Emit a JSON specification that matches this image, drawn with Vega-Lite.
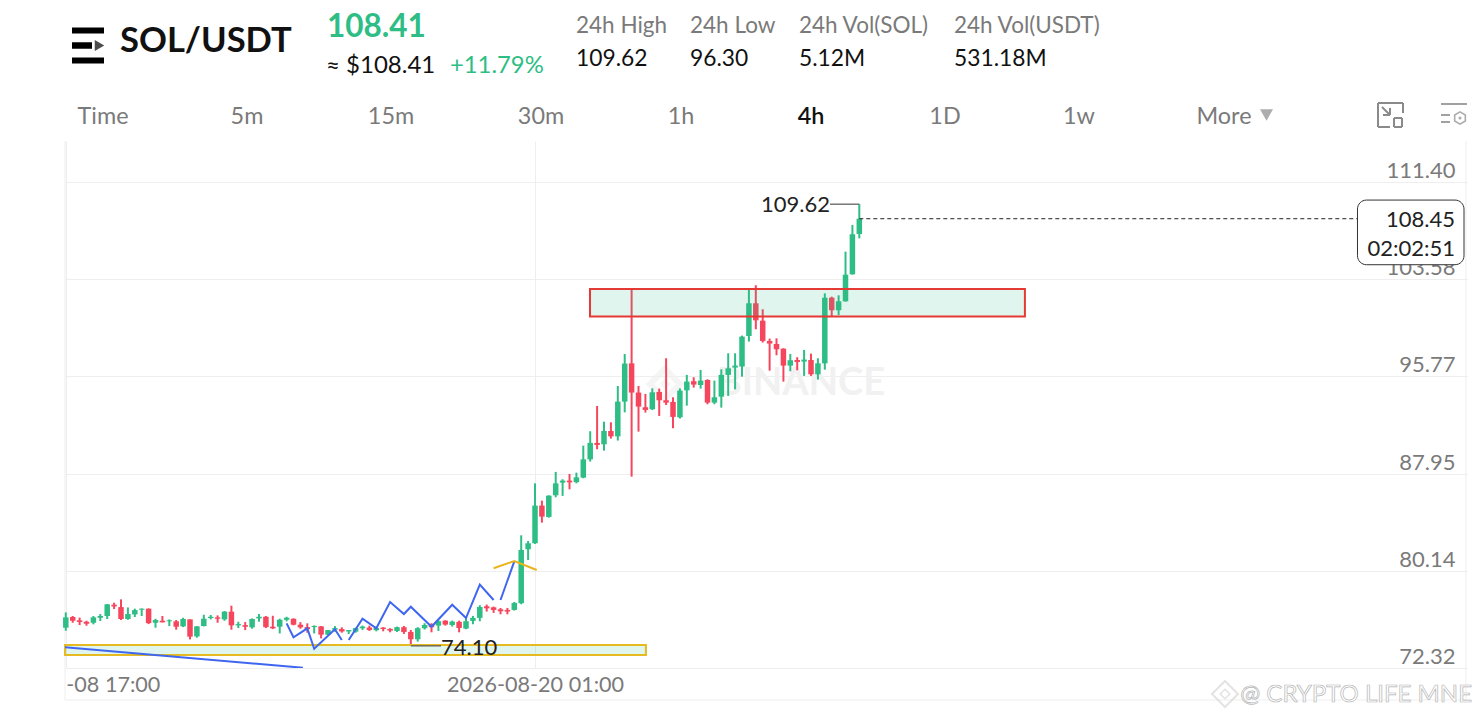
{
"$schema":"https://vega.github.io/schema/vega-lite/v6.json",
"autosize":{"type":"none"},
"padding":{"left":65,"top":141,"right":12,"bottom":52},
"width":1402,"height":527,
"background":"#ffffff",
"config":{"font":"Lato","view":{"stroke":null},
"style":{
"tab":{"fontSize":23.4,"color":"#7a7a7a","align":"center","baseline":"middle"},
"stat":{"fontSize":22.5,"color":"#7a7a7a","align":"left","baseline":"middle"},
"val":{"fontSize":22.8,"color":"#111111","align":"left","baseline":"middle"},
"ann":{"fontSize":22,"color":"#222222","baseline":"middle"}
}},
"datasets":{
"candles":[
{"t":"2026-08-08T17:00","o":75.56,"h":76.79,"l":75.32,"c":76.39},
{"t":"2026-08-08T21:00","o":76.42,"h":76.50,"l":75.96,"c":76.12},
{"t":"2026-08-09T01:00","o":76.15,"h":76.37,"l":75.77,"c":76.02},
{"t":"2026-08-09T05:00","o":76.04,"h":76.12,"l":75.72,"c":75.88},
{"t":"2026-08-09T09:00","o":75.96,"h":76.50,"l":75.83,"c":76.39},
{"t":"2026-08-09T13:00","o":76.36,"h":76.66,"l":76.10,"c":76.50},
{"t":"2026-08-09T17:00","o":76.50,"h":77.46,"l":76.26,"c":77.44},
{"t":"2026-08-09T21:00","o":77.41,"h":77.57,"l":77.06,"c":77.27},
{"t":"2026-08-10T01:00","o":77.22,"h":77.84,"l":76.18,"c":76.26},
{"t":"2026-08-10T05:00","o":76.26,"h":77.19,"l":76.20,"c":76.66},
{"t":"2026-08-10T09:00","o":76.63,"h":77.09,"l":76.42,"c":76.98},
{"t":"2026-08-10T13:00","o":77.01,"h":77.11,"l":76.50,"c":77.09},
{"t":"2026-08-10T17:00","o":77.09,"h":77.11,"l":75.85,"c":75.93},
{"t":"2026-08-10T21:00","o":75.96,"h":76.28,"l":75.56,"c":76.18},
{"t":"2026-08-11T01:00","o":76.12,"h":76.50,"l":75.99,"c":75.99},
{"t":"2026-08-11T05:00","o":76.07,"h":76.23,"l":75.69,"c":76.15},
{"t":"2026-08-11T09:00","o":76.07,"h":76.18,"l":75.40,"c":75.64},
{"t":"2026-08-11T13:00","o":75.67,"h":76.36,"l":75.61,"c":76.26},
{"t":"2026-08-11T17:00","o":76.23,"h":76.23,"l":74.62,"c":74.84},
{"t":"2026-08-11T21:00","o":74.86,"h":75.69,"l":74.76,"c":75.67},
{"t":"2026-08-12T01:00","o":75.69,"h":76.60,"l":75.67,"c":76.28},
{"t":"2026-08-12T05:00","o":76.34,"h":76.58,"l":76.23,"c":76.44},
{"t":"2026-08-12T09:00","o":76.39,"h":76.55,"l":75.96,"c":76.28},
{"t":"2026-08-12T13:00","o":76.23,"h":76.90,"l":76.12,"c":76.85},
{"t":"2026-08-12T17:00","o":76.85,"h":77.33,"l":75.40,"c":75.75},
{"t":"2026-08-12T21:00","o":75.75,"h":76.04,"l":75.53,"c":75.85},
{"t":"2026-08-13T01:00","o":75.77,"h":76.01,"l":75.37,"c":75.64},
{"t":"2026-08-13T05:00","o":75.59,"h":76.31,"l":75.48,"c":76.26},
{"t":"2026-08-13T09:00","o":76.31,"h":76.66,"l":76.04,"c":76.44},
{"t":"2026-08-13T13:00","o":76.44,"h":76.50,"l":75.53,"c":75.61},
{"t":"2026-08-13T17:00","o":75.64,"h":76.52,"l":75.45,"c":75.51},
{"t":"2026-08-13T21:00","o":75.64,"h":76.28,"l":75.10,"c":76.20},
{"t":"2026-08-14T01:00","o":76.20,"h":76.44,"l":76.07,"c":76.36},
{"t":"2026-08-14T05:00","o":76.28,"h":76.31,"l":75.75,"c":75.80},
{"t":"2026-08-14T09:00","o":75.80,"h":76.01,"l":75.48,"c":75.59},
{"t":"2026-08-14T13:00","o":75.61,"h":75.91,"l":75.16,"c":75.45},
{"t":"2026-08-14T17:00","o":75.61,"h":75.75,"l":75.10,"c":75.69},
{"t":"2026-08-14T21:00","o":75.67,"h":75.69,"l":74.70,"c":75.00},
{"t":"2026-08-15T01:00","o":75.00,"h":75.37,"l":74.94,"c":75.37},
{"t":"2026-08-15T05:00","o":75.40,"h":75.69,"l":75.24,"c":75.53},
{"t":"2026-08-15T09:00","o":75.45,"h":75.59,"l":75.16,"c":75.26},
{"t":"2026-08-15T13:00","o":75.26,"h":75.37,"l":75.05,"c":75.37},
{"t":"2026-08-15T17:00","o":75.24,"h":75.56,"l":75.16,"c":75.53},
{"t":"2026-08-15T21:00","o":75.52,"h":75.73,"l":75.38,"c":75.65},
{"t":"2026-08-16T01:00","o":75.57,"h":75.73,"l":75.30,"c":75.38},
{"t":"2026-08-16T05:00","o":75.36,"h":75.65,"l":75.27,"c":75.54},
{"t":"2026-08-16T09:00","o":75.57,"h":75.60,"l":75.27,"c":75.46},
{"t":"2026-08-16T13:00","o":75.46,"h":75.52,"l":75.19,"c":75.33},
{"t":"2026-08-16T17:00","o":75.30,"h":75.65,"l":75.22,"c":75.60},
{"t":"2026-08-16T21:00","o":75.60,"h":75.70,"l":75.06,"c":75.22},
{"t":"2026-08-17T01:00","o":75.22,"h":75.38,"l":74.10,"c":74.63},
{"t":"2026-08-17T05:00","o":74.63,"h":75.60,"l":74.44,"c":75.52},
{"t":"2026-08-17T09:00","o":75.52,"h":75.92,"l":75.41,"c":75.78},
{"t":"2026-08-17T13:00","o":75.84,"h":75.92,"l":75.19,"c":75.60},
{"t":"2026-08-17T17:00","o":75.73,"h":76.16,"l":75.30,"c":76.08},
{"t":"2026-08-17T21:00","o":76.13,"h":76.16,"l":75.73,"c":75.81},
{"t":"2026-08-18T01:00","o":75.78,"h":76.13,"l":75.65,"c":76.05},
{"t":"2026-08-18T05:00","o":76.03,"h":76.13,"l":75.19,"c":75.54},
{"t":"2026-08-18T09:00","o":75.49,"h":76.35,"l":75.44,"c":76.08},
{"t":"2026-08-18T13:00","o":76.11,"h":76.51,"l":75.84,"c":76.35},
{"t":"2026-08-18T17:00","o":76.35,"h":77.37,"l":76.08,"c":77.23},
{"t":"2026-08-18T21:00","o":77.28,"h":77.42,"l":76.86,"c":77.12},
{"t":"2026-08-19T01:00","o":77.20,"h":77.26,"l":76.75,"c":76.99},
{"t":"2026-08-19T05:00","o":77.04,"h":77.15,"l":76.64,"c":76.88},
{"t":"2026-08-19T09:00","o":76.99,"h":77.15,"l":76.64,"c":76.86},
{"t":"2026-08-19T13:00","o":76.99,"h":77.63,"l":76.94,"c":77.55},
{"t":"2026-08-19T17:00","o":77.53,"h":82.99,"l":77.45,"c":81.81},
{"t":"2026-08-19T21:00","o":81.87,"h":82.54,"l":81.01,"c":82.35},
{"t":"2026-08-20T01:00","o":82.35,"h":87.17,"l":82.30,"c":85.38},
{"t":"2026-08-20T05:00","o":85.38,"h":85.78,"l":84.01,"c":84.49},
{"t":"2026-08-20T09:00","o":84.47,"h":86.21,"l":84.41,"c":86.18},
{"t":"2026-08-20T13:00","o":86.21,"h":88.09,"l":86.05,"c":87.17},
{"t":"2026-08-20T17:00","o":87.23,"h":87.50,"l":86.16,"c":87.39},
{"t":"2026-08-20T21:00","o":87.39,"h":87.92,"l":86.69,"c":87.25},
{"t":"2026-08-21T01:00","o":87.27,"h":88.03,"l":87.17,"c":87.65},
{"t":"2026-08-21T05:00","o":87.63,"h":90.20,"l":87.58,"c":89.10},
{"t":"2026-08-21T09:00","o":89.10,"h":91.36,"l":88.92,"c":90.42},
{"t":"2026-08-21T13:00","o":90.42,"h":93.39,"l":89.91,"c":90.26},
{"t":"2026-08-21T17:00","o":90.31,"h":92.13,"l":89.80,"c":91.38},
{"t":"2026-08-21T21:00","o":91.38,"h":92.08,"l":90.77,"c":90.95},
{"t":"2026-08-22T01:00","o":90.95,"h":95.00,"l":90.61,"c":93.74},
{"t":"2026-08-22T05:00","o":93.74,"h":97.57,"l":92.88,"c":96.80},
{"t":"2026-08-22T09:00","o":96.82,"h":102.80,"l":87.71,"c":94.47},
{"t":"2026-08-22T13:00","o":94.47,"h":95.00,"l":91.33,"c":93.34},
{"t":"2026-08-22T17:00","o":93.29,"h":94.36,"l":92.86,"c":93.07},
{"t":"2026-08-22T21:00","o":93.13,"h":94.81,"l":93.07,"c":94.49},
{"t":"2026-08-23T01:00","o":94.52,"h":94.79,"l":92.59,"c":93.85},
{"t":"2026-08-23T05:00","o":93.85,"h":97.23,"l":93.47,"c":93.66},
{"t":"2026-08-23T09:00","o":93.72,"h":94.09,"l":91.60,"c":92.51},
{"t":"2026-08-23T13:00","o":92.48,"h":94.81,"l":92.38,"c":94.63},
{"t":"2026-08-23T17:00","o":94.65,"h":95.89,"l":93.42,"c":95.35},
{"t":"2026-08-23T21:00","o":95.38,"h":95.70,"l":94.87,"c":95.11},
{"t":"2026-08-24T01:00","o":95.08,"h":96.29,"l":94.79,"c":95.43},
{"t":"2026-08-24T05:00","o":95.48,"h":95.54,"l":93.53,"c":93.66},
{"t":"2026-08-24T09:00","o":93.66,"h":95.43,"l":93.53,"c":94.09},
{"t":"2026-08-24T13:00","o":94.14,"h":96.34,"l":93.26,"c":95.89},
{"t":"2026-08-24T17:00","o":95.89,"h":97.63,"l":94.20,"c":96.42},
{"t":"2026-08-24T21:00","o":96.48,"h":97.63,"l":94.73,"c":96.64},
{"t":"2026-08-25T01:00","o":96.56,"h":99.05,"l":95.75,"c":98.97},
{"t":"2026-08-25T05:00","o":99.02,"h":102.72,"l":98.57,"c":101.65},
{"t":"2026-08-25T09:00","o":101.65,"h":103.10,"l":99.56,"c":100.28},
{"t":"2026-08-25T13:00","o":100.25,"h":101.17,"l":98.49,"c":98.62},
{"t":"2026-08-25T17:00","o":98.62,"h":98.81,"l":96.23,"c":98.41},
{"t":"2026-08-25T21:00","o":98.38,"h":98.83,"l":97.47,"c":97.95},
{"t":"2026-08-26T01:00","o":98.00,"h":98.03,"l":95.35,"c":96.64},
{"t":"2026-08-26T05:00","o":96.64,"h":97.57,"l":96.18,"c":97.07},
{"t":"2026-08-26T09:00","o":97.09,"h":97.31,"l":96.26,"c":96.93},
{"t":"2026-08-26T13:00","o":96.96,"h":97.90,"l":95.81,"c":97.12},
{"t":"2026-08-26T17:00","o":97.09,"h":97.60,"l":95.81,"c":95.94},
{"t":"2026-08-26T21:00","o":95.94,"h":97.23,"l":95.51,"c":96.82},
{"t":"2026-08-27T01:00","o":96.82,"h":102.45,"l":96.31,"c":102.10},
{"t":"2026-08-27T05:00","o":102.10,"h":102.18,"l":100.58,"c":101.09},
{"t":"2026-08-27T09:00","o":101.09,"h":102.29,"l":100.71,"c":101.81},
{"t":"2026-08-27T13:00","o":101.81,"h":105.80,"l":101.78,"c":103.95},
{"t":"2026-08-27T17:00","o":103.98,"h":107.95,"l":103.95,"c":107.20},
{"t":"2026-08-27T21:00","o":107.22,"h":109.62,"l":106.87,"c":108.45}
],
"blue":[
{"g":"a","t":"2026-08-14T01:00","p":75.91},{"g":"a","t":"2026-08-14T05:00","p":74.79},{"g":"a","t":"2026-08-14T13:00","p":75.51},{"g":"a","t":"2026-08-14T17:00","p":73.87},{"g":"a","t":"2026-08-15T05:00","p":75.43},{"g":"a","t":"2026-08-15T09:00","p":74.57},
{"g":"b","t":"2026-08-15T13:00","p":74.57},{"g":"b","t":"2026-08-15T21:00","p":76.28},{"g":"b","t":"2026-08-16T05:00","p":75.51},{"g":"b","t":"2026-08-16T13:00","p":77.63},{"g":"b","t":"2026-08-16T21:00","p":76.66},{"g":"b","t":"2026-08-17T01:00","p":77.25},{"g":"b","t":"2026-08-17T13:00","p":75.64},{"g":"b","t":"2026-08-18T01:00","p":77.41},{"g":"b","t":"2026-08-18T09:00","p":76.34},{"g":"b","t":"2026-08-18T17:00","p":79.02},{"g":"b","t":"2026-08-19T01:00","p":77.79},
{"g":"c","t":"2026-08-19T05:00","p":77.79},{"g":"c","t":"2026-08-19T13:00","p":80.90},
{"g":"d","t":"2026-08-08T16:32","p":73.98},{"g":"d","t":"2026-08-14T10:30","p":72.34}
],
"orange":[
{"t":"2026-08-19T01:00","p":80.34},{"t":"2026-08-19T13:00","p":80.92},{"t":"2026-08-20T02:00","p":80.20}
],
"boxes":[
{"a":"2026-08-08T16:32","b":"2026-08-22T17:18","lo":73.37,"hi":74.17,"k":"y"},
{"a":"2026-08-21T08:53","b":"2026-08-31T21:00","lo":100.58,"hi":102.80,"k":"r"}
],
"frame":[
{"a":"2026-08-08T16:32","b":"2026-08-08T16:32","lo":69.75,"hi":114.70},
{"a":"2026-09-11T12:40","b":"2026-09-11T12:40","lo":69.75,"hi":114.70},
{"a":"2026-08-08T16:32","b":"2026-09-11T12:40","lo":69.75,"hi":69.75}
]
},
"data":{"values":[{}]},
"layer":[
{"data":{"name":"frame"},"mark":{"type":"rule","color":"#eeeeee","strokeWidth":1},
 "encoding":{
  "x":{"field":"a","type":"temporal","title":null,"scale":{"domain":["2026-08-08T16:32:00","2026-09-11T13:17:00"],"padding":0},
   "axis":{"values":[{"year":2026,"month":8,"date":8,"hours":17},{"year":2026,"month":8,"date":20,"hours":1}],"format":"%Y-%m-%d %H:%M","formatType":"time","labelExpr":"timeFormat(datum.value,'%d')=='08' ? '-08 17:00' : datum.label","domain":false,"ticks":false,"grid":true,"gridColor":"#eeeeee","labelColor":"#7a7a7a","labelFontSize":21.6,"labelPadding":6,"labelLimit":400,"labelFlush":false,"labelOverlap":false,"labelBound":false,"labelAlign":{"condition":{"test":"timeFormat(datum.value,'%d')=='08'","value":"left"},"value":"center"}}},
  "x2":{"field":"b"},
  "y":{"field":"lo","type":"quantitative","title":null,"scale":{"domain":[72.32,114.70],"nice":false,"zero":false},
   "axis":{"orient":"right","values":[72.32,80.14,87.95,95.77,103.58,111.40],"format":".2f","domain":false,"ticks":false,"grid":true,"gridColor":"#eeeeee","labelColor":"#7a7a7a","labelFontSize":22,"labelAlign":"right","labelPadding":-12,"labelOffset":-11.5,"labelOverlap":false,"labelBound":false,"labelFlush":false}},
  "y2":{"field":"hi"}}},
{"mark":{"type":"text","text":"BINANCE","fontSize":38,"fontWeight":"bold","color":"#f1f1f2","align":"right","baseline":"middle"},"encoding":{"x":{"value":820},"y":{"value":243}}},
{"mark":{"type":"point","shape":"diamond","size":900,"filled":false,"stroke":"#f1f1f2","strokeWidth":6},"encoding":{"x":{"value":600},"y":{"value":243}}},
{"mark":{"type":"point","shape":"diamond","size":120,"filled":true,"fill":"#f1f1f2"},"encoding":{"x":{"value":600},"y":{"value":243}}},
{"data":{"name":"candles"},"mark":{"type":"rule","strokeWidth":2},
 "encoding":{"x":{"field":"t","type":"temporal"},"y":{"field":"l","type":"quantitative"},"y2":{"field":"h"},
  "color":{"condition":{"test":"datum.c>=datum.o","value":"#2ebd85"},"value":"#f6465d"}}},
{"data":{"name":"candles"},"mark":{"type":"bar","size":5.5,"cornerRadius":0},
 "encoding":{"x":{"field":"t","type":"temporal"},"y":{"field":"o","type":"quantitative"},"y2":{"field":"c"},
  "color":{"condition":{"test":"datum.c>=datum.o","value":"#2ebd85"},"value":"#f6465d"}}},
{"data":{"name":"boxes"},"mark":{"type":"rect","fill":"#2ebd85","fillOpacity":0.15,"strokeWidth":2},
 "encoding":{"x":{"field":"a","type":"temporal"},"x2":{"field":"b"},"y":{"field":"lo","type":"quantitative"},"y2":{"field":"hi"},
  "stroke":{"condition":{"test":"datum.k=='y'","value":"#e6bb22"},"value":"#e53935"}}},
{"data":{"name":"blue"},"mark":{"type":"line","color":"#3f66f0","strokeWidth":2,"clip":true},
 "encoding":{"x":{"field":"t","type":"temporal"},"y":{"field":"p","type":"quantitative"},"detail":{"field":"g"}}},
{"data":{"name":"orange"},"mark":{"type":"line","color":"#eab41c","strokeWidth":2},
 "encoding":{"x":{"field":"t","type":"temporal"},"y":{"field":"p","type":"quantitative"}}},
{"data":{"values":[{"a":"2026-08-27T04:00","b":"2026-08-27T21:00","p":109.62}]},"mark":{"type":"rule","color":"#555555","strokeWidth":1.2},
 "encoding":{"x":{"field":"a","type":"temporal"},"x2":{"field":"b"},"y":{"field":"p","type":"quantitative"}}},
{"data":{"values":[{"a":"2026-08-17T01:00","b":"2026-08-17T18:30","p":74.1}]},"mark":{"type":"rule","color":"#555555","strokeWidth":1.2},
 "encoding":{"x":{"field":"a","type":"temporal"},"x2":{"field":"b"},"y":{"field":"p","type":"quantitative"}}},
{"data":{"values":[{"t":"2026-08-27T04:00","p":109.55,"s":"109.62"}]},"mark":{"type":"text","style":"ann","align":"right"},
 "encoding":{"x":{"field":"t","type":"temporal"},"y":{"field":"p","type":"quantitative"},"text":{"field":"s"}}},
{"data":{"values":[{"t":"2026-08-17T18:30","p":73.93,"s":"74.10"}]},"mark":{"type":"text","style":"ann","align":"left"},
 "encoding":{"x":{"field":"t","type":"temporal"},"y":{"field":"p","type":"quantitative"},"text":{"field":"s"}}},
{"data":{"values":[{"a":"2026-08-27T21:00","b":"2026-09-08T22:00","p":108.45}]},"mark":{"type":"rule","color":"#222222","strokeWidth":1,"strokeDash":[4,3]},
 "encoding":{"x":{"field":"a","type":"temporal"},"x2":{"field":"b"},"y":{"field":"p","type":"quantitative"}}},
{"data":{"values":[{"a":"2026-09-08T21:48","b":"2026-09-11T11:33","lo":104.75,"hi":109.95}]},"mark":{"type":"rect","fill":"#ffffff","stroke":"#333333","strokeWidth":1,"cornerRadius":9},
 "encoding":{"x":{"field":"a","type":"temporal"},"x2":{"field":"b"},"y":{"field":"lo","type":"quantitative"},"y2":{"field":"hi"}}},
{"data":{"values":[{"t":"2026-09-11T06:20","p":108.35,"s":"108.45"},{"t":"2026-09-11T06:20","p":106.0,"s":"02:02:51"}]},"mark":{"type":"text","style":"ann","align":"right"},
 "encoding":{"x":{"field":"t","type":"temporal"},"y":{"field":"p","type":"quantitative"},"text":{"field":"s"}}},
{"mark":{"type":"rule","color":"#000000","strokeWidth":6},"encoding":{"x":{"value":7},"x2":{"value":39},"y":{"value":-110.5},"y2":{"value":-110.5}}},
{"mark":{"type":"rule","color":"#000000","strokeWidth":6.5},"encoding":{"x":{"value":7},"x2":{"value":27},"y":{"value":-95.5},"y2":{"value":-95.5}}},
{"mark":{"type":"rule","color":"#000000","strokeWidth":6},"encoding":{"x":{"value":7},"x2":{"value":39},"y":{"value":-80.5},"y2":{"value":-80.5}}},
{"mark":{"type":"point","shape":"triangle-right","size":120,"filled":true,"fill":"#000000"},"encoding":{"x":{"value":34.5},"y":{"value":-95.5}}},
{"mark":{"type":"text","text":"SOL/USDT","fontSize":34.6,"fontWeight":"bold","color":"#111111","align":"left","baseline":"middle"},"encoding":{"x":{"value":55},"y":{"value":-99.5}}},
{"mark":{"type":"text","text":"108.41","fontSize":31.5,"fontWeight":"bold","color":"#2ebd85","align":"left","baseline":"middle"},"encoding":{"x":{"value":262},"y":{"value":-113.5}}},
{"mark":{"type":"text","text":"≈ $108.41","fontSize":24,"color":"#111111","align":"left","baseline":"middle"},"encoding":{"x":{"value":261},"y":{"value":-75}}},
{"mark":{"type":"text","text":"+11.79%","fontSize":23.8,"color":"#2ebd85","align":"left","baseline":"middle"},"encoding":{"x":{"value":385},"y":{"value":-75}}},
{"mark":{"type":"text","style":"stat","text":"24h High"},"encoding":{"x":{"value":511},"y":{"value":-115}}},
{"mark":{"type":"text","style":"val","text":"109.62"},"encoding":{"x":{"value":511},"y":{"value":-82.5}}},
{"mark":{"type":"text","style":"stat","text":"24h Low"},"encoding":{"x":{"value":625},"y":{"value":-115}}},
{"mark":{"type":"text","style":"val","text":"96.30"},"encoding":{"x":{"value":625},"y":{"value":-82.5}}},
{"mark":{"type":"text","style":"stat","text":"24h Vol(SOL)"},"encoding":{"x":{"value":734},"y":{"value":-115}}},
{"mark":{"type":"text","style":"val","text":"5.12M"},"encoding":{"x":{"value":734},"y":{"value":-82.5}}},
{"mark":{"type":"text","style":"stat","text":"24h Vol(USDT)"},"encoding":{"x":{"value":889},"y":{"value":-115}}},
{"mark":{"type":"text","style":"val","text":"531.18M"},"encoding":{"x":{"value":889},"y":{"value":-82.5}}},
{"mark":{"type":"text","style":"tab","text":"Time"},"encoding":{"x":{"value":38},"y":{"value":-24}}},
{"mark":{"type":"text","style":"tab","text":"5m"},"encoding":{"x":{"value":182},"y":{"value":-24}}},
{"mark":{"type":"text","style":"tab","text":"15m"},"encoding":{"x":{"value":326},"y":{"value":-24}}},
{"mark":{"type":"text","style":"tab","text":"30m"},"encoding":{"x":{"value":476},"y":{"value":-24}}},
{"mark":{"type":"text","style":"tab","text":"1h"},"encoding":{"x":{"value":616},"y":{"value":-24}}},
{"mark":{"type":"text","style":"tab","text":"4h","color":"#111111","fontWeight":600},"encoding":{"x":{"value":746},"y":{"value":-24}}},
{"mark":{"type":"text","style":"tab","text":"1D"},"encoding":{"x":{"value":880},"y":{"value":-24}}},
{"mark":{"type":"text","style":"tab","text":"1w"},"encoding":{"x":{"value":1014},"y":{"value":-24}}},
{"mark":{"type":"text","style":"tab","text":"More"},"encoding":{"x":{"value":1159},"y":{"value":-24}}},
{"mark":{"type":"point","shape":"triangle-down","size":170,"filled":true,"fill":"#8a8a8a"},"encoding":{"x":{"value":1201.5},"y":{"value":-26}}},
{"mark":{"type":"rule","color":"#8a8a8a","strokeWidth":2},"encoding":{"x":{"value":1313},"x2":{"value":1338},"y":{"value":-38},"y2":{"value":-38}}},
{"mark":{"type":"rule","color":"#8a8a8a","strokeWidth":2},"encoding":{"x":{"value":1313},"x2":{"value":1313},"y":{"value":-38},"y2":{"value":-14}}},
{"mark":{"type":"rule","color":"#8a8a8a","strokeWidth":2},"encoding":{"x":{"value":1338},"x2":{"value":1338},"y":{"value":-38},"y2":{"value":-28}}},
{"mark":{"type":"rule","color":"#8a8a8a","strokeWidth":2},"encoding":{"x":{"value":1313},"x2":{"value":1325},"y":{"value":-14},"y2":{"value":-14}}},
{"mark":{"type":"rule","color":"#8a8a8a","strokeWidth":2},"encoding":{"x":{"value":1317},"x2":{"value":1325},"y":{"value":-34},"y2":{"value":-26}}},
{"mark":{"type":"rule","color":"#8a8a8a","strokeWidth":2},"encoding":{"x":{"value":1318},"x2":{"value":1325},"y":{"value":-26},"y2":{"value":-26}}},
{"mark":{"type":"rule","color":"#8a8a8a","strokeWidth":2},"encoding":{"x":{"value":1325},"x2":{"value":1325},"y":{"value":-33},"y2":{"value":-26}}},
{"mark":{"type":"rule","color":"#8a8a8a","strokeWidth":2},"encoding":{"x":{"value":1329},"x2":{"value":1337},"y":{"value":-23},"y2":{"value":-23}}},
{"mark":{"type":"rule","color":"#8a8a8a","strokeWidth":2},"encoding":{"x":{"value":1329},"x2":{"value":1337},"y":{"value":-14},"y2":{"value":-14}}},
{"mark":{"type":"rule","color":"#8a8a8a","strokeWidth":2},"encoding":{"x":{"value":1329},"x2":{"value":1329},"y":{"value":-23},"y2":{"value":-14}}},
{"mark":{"type":"rule","color":"#8a8a8a","strokeWidth":2},"encoding":{"x":{"value":1337},"x2":{"value":1337},"y":{"value":-23},"y2":{"value":-14}}},
{"mark":{"type":"rule","color":"#8a8a8a","strokeWidth":1.6},"encoding":{"x":{"value":1376},"x2":{"value":1402},"y":{"value":-37},"y2":{"value":-37}}},
{"mark":{"type":"rule","color":"#8a8a8a","strokeWidth":1.6},"encoding":{"x":{"value":1376},"x2":{"value":1385},"y":{"value":-26},"y2":{"value":-26}}},
{"mark":{"type":"rule","color":"#8a8a8a","strokeWidth":1.6},"encoding":{"x":{"value":1376},"x2":{"value":1385},"y":{"value":-19},"y2":{"value":-19}}},
{"mark":{"type":"point","shape":"M0,-1L0.87,-0.5L0.87,0.5L0,1L-0.87,0.5L-0.87,-0.5Z","size":150,"filled":false,"stroke":"#8a8a8a","strokeWidth":1.6},"encoding":{"x":{"value":1395},"y":{"value":-23}}},
{"mark":{"type":"point","shape":"circle","size":10,"filled":true,"fill":"#8a8a8a"},"encoding":{"x":{"value":1395},"y":{"value":-23}}},
{"mark":{"type":"point","shape":"diamond","size":676,"filled":false,"stroke":"#d8d8d8","strokeWidth":2},"encoding":{"x":{"value":1160},"y":{"value":553}}},
{"mark":{"type":"point","shape":"diamond","size":90,"filled":false,"stroke":"#d8d8d8","strokeWidth":1.5},"encoding":{"x":{"value":1160},"y":{"value":553}}},
{"mark":{"type":"text","text":"@ CRYPTO LIFE MNE","fontSize":24,"color":"#ffffff","stroke":"#b5b5b5","strokeWidth":0.7,"align":"right","baseline":"middle"},"encoding":{"x":{"value":1407},"y":{"value":554}}}
]
}
